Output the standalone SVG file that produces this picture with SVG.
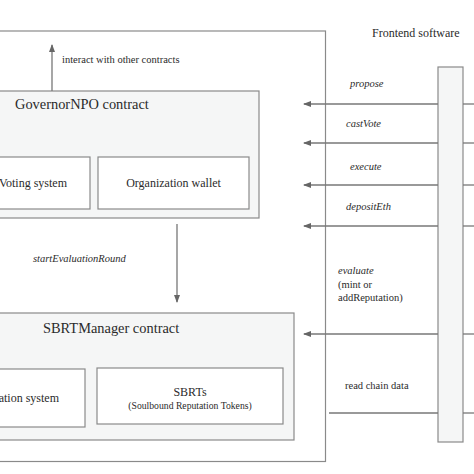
<svg xmlns="http://www.w3.org/2000/svg" width="474" height="474" viewBox="0 0 474 474" font-family="'Liberation Serif', 'Times New Roman', serif">
<style>
text{font-family:'Liberation Serif','Times New Roman',serif;fill:#2b2b2b}
.box{fill:#f5f6f6;stroke:#8a8a8a;stroke-width:1.2}
.inner{fill:#ffffff;stroke:#8a8a8a;stroke-width:1.2}
.ln{stroke:#777;stroke-width:1.3;fill:none}
.it{font-style:italic;font-size:10.5px}
.lbl{font-size:10.5px}
</style>
<defs>
<marker id="ah" markerWidth="8" markerHeight="6" refX="7" refY="3" orient="auto" markerUnits="userSpaceOnUse">
<path d="M0,0 L8,3 L0,6 Z" fill="#666"/>
</marker>
</defs>
<rect width="474" height="474" fill="#ffffff"/>
<g id="outer">
<rect x="-10" y="31" width="335.5" height="430.5" fill="none" stroke="#8a8a8a" stroke-width="1.2"/>
</g>
<g id="frontend">
<text x="372" y="37" font-size="12">Frontend software</text>
<rect x="438" y="67" width="25" height="375" class="box"/>
</g>
<g id="governor">
<rect x="-10" y="91" width="269" height="127" class="box"/>
<text x="15" y="109" font-size="14.4">GovernorNPO contract</text>
</g>
<g id="voting">
<rect x="-10" y="157" width="100" height="52" class="inner"/>
<text x="67" y="187" font-size="12" text-anchor="end">Voting system</text>
</g>
<g id="wallet">
<rect x="98" y="157" width="151" height="52" class="inner"/>
<text x="173.5" y="187" font-size="12" text-anchor="middle">Organization wallet</text>
</g>
<g id="sbrtmanager">
<rect x="-10" y="313" width="304" height="127" class="box"/>
<text x="43" y="333" font-size="14.4">SBRTManager contract</text>
</g>
<g id="reputation">
<rect x="-10" y="369" width="95" height="58" class="inner"/>
<text x="59" y="402" font-size="12" text-anchor="end">Reputation system</text>
</g>
<g id="sbrts">
<rect x="97" y="368" width="186" height="56" class="inner"/>
<text x="190" y="396" font-size="12" text-anchor="middle">SBRTs</text>
<text x="190" y="409" font-size="9.7" text-anchor="middle">(Soulbound Reputation Tokens)</text>
</g>
<g id="connectors">
<line x1="52" y1="91" x2="52" y2="45" class="ln" marker-end="url(#ah)"/>
<text x="62" y="63" class="lbl">interact with other contracts</text>
<line x1="177" y1="224" x2="177" y2="302" class="ln" marker-end="url(#ah)"/>
<text x="33" y="262" class="it" font-size="10.8">startEvaluationRound</text>
<line x1="438" y1="104" x2="304" y2="104" class="ln" marker-end="url(#ah)"/>
<line x1="463" y1="104" x2="474" y2="104" class="ln"/>
<text x="350" y="87" class="it">propose</text>
<line x1="438" y1="143" x2="304" y2="143" class="ln" marker-end="url(#ah)"/>
<line x1="463" y1="143" x2="474" y2="143" class="ln"/>
<text x="346" y="127" class="it">castVote</text>
<line x1="438" y1="185" x2="304" y2="185" class="ln" marker-end="url(#ah)"/>
<line x1="463" y1="185" x2="474" y2="185" class="ln"/>
<text x="350" y="170" class="it">execute</text>
<line x1="438" y1="226" x2="304" y2="226" class="ln" marker-end="url(#ah)"/>
<line x1="463" y1="226" x2="474" y2="226" class="ln"/>
<text x="346" y="210" class="it">depositEth</text>
<line x1="438" y1="334" x2="304" y2="334" class="ln" marker-end="url(#ah)"/>
<line x1="463" y1="334" x2="474" y2="334" class="ln"/>
<text x="338" y="274" class="it">evaluate</text>
<text x="338" y="288" class="lbl">(mint or</text>
<text x="338" y="301" class="lbl">addReputation)</text>
<line x1="438" y1="413" x2="329" y2="413" class="ln"/>
<line x1="463" y1="413" x2="474" y2="413" class="ln"/>
<text x="345" y="389" class="lbl">read chain data</text>
</g>
</svg>
